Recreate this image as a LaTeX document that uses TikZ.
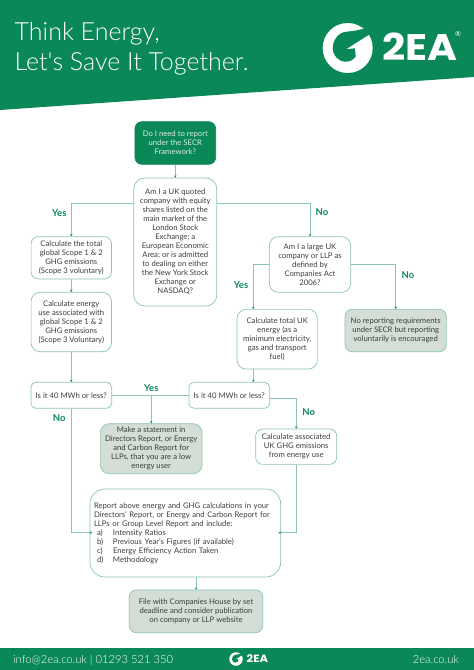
\documentclass[tikz,border=0pt]{standalone}
\usepackage{fontspec}
\setmainfont{Lato}
\newfontfamily\lightfont{Lato Light}
\newfontfamily\logofont[FakeStretch=1.1]{Poppins}
\usetikzlibrary{arrows.meta,calc}
\definecolor{brand}{HTML}{0A8858}
\definecolor{edge}{HTML}{8CC4B4}
\definecolor{pale}{HTML}{D4DDD6}
\definecolor{ink}{HTML}{3A3F3C}
\tikzset{
  flowbox/.style={draw=edge,line width=0.7pt,rounded corners=7pt,fill=white,text=ink,align=center,inner sep=0pt,font=\fontsize{7.7}{9}\selectfont},
  endbox/.style={flowbox,fill=pale},
  conn/.style={draw=edge,line width=0.7pt,-{Stealth[length=2.2pt,width=2.4pt,color=brand]}},
  plain/.style={draw=edge,line width=0.7pt},
  choice/.style={text=brand,font=\fontsize{9.5}{11}\selectfont\bfseries,inner sep=0pt},
}
\newcommand{\logomark}[2]{%
  \begin{scope}[shift={(#1)},scale=#2]
    \fill[white] (0,0) circle (25);
    \fill[brand] (17.3,-19.7) -- (27,-20) -- (22.3,-14) -- (-1.7,1.3) -- (7.3,0.3) -- (8,8.7)
      .. controls (5,12.5) and (1,14) .. (-2.7,13.7)
      .. controls (-10,13) and (-15,7) .. (-15,0.3)
      .. controls (-15,-8) and (-9,-16) .. (-1,-16.3)
      .. controls (6,-17) and (12,-18) .. (17.3,-19.7) -- cycle;
  \end{scope}}
\begin{document}
\begin{tikzpicture}[x=1pt,y=-1pt]
\useasboundingbox (0,0) rectangle (474,670);
\fill[white] (0,0) rectangle (474,670);
\fill[brand] (0,0) -- (474,0) -- (474,77) -- (0,110) -- cycle;
\fill[brand] (0,648.3) rectangle (474,670);
% header
\node[anchor=base west,inner sep=0pt,text=white,font=\fontsize{25}{29.5}\lightfont] (title1) at (14.5,40.7) {Think Energy,};
\node[anchor=base west,inner sep=0pt,text=white,font=\fontsize{25}{29.5}\lightfont] (title2) at (14.5,70) {Let's Save It Together.};
\logomark{347.7,48}{1}
\node[anchor=base west,inner sep=0pt,text=white,font=\fontsize{37}{40}\logofont\bfseries] (brandname) at (382,60) {2EA};
\node[inner sep=0pt,text=white,font=\fontsize{7}{8}\selectfont] (reg) at (458,34) {®};
% boxes
\node[flowbox,fill=brand,draw=brand,text=white!85!brand,minimum width=80.7pt,minimum height=42.6pt] (start) at (175.3,143) {Do I need to report\\under the SECR\\Framework?};
\node[flowbox,rounded corners=11pt,minimum width=83pt,minimum height=128pt] (q1) at (175.3,242) {Am I a UK quoted\\company with equity\\shares listed on the\\main market of the\\London Stock\\Exchange; a\\European Economic\\Area; or is admitted\\to dealing on either\\the New York Stock\\Exchange or\\NASDAQ?};
\node[flowbox,minimum width=80.4pt,minimum height=42.3pt] (calc1) at (71.3,257.8) {Calculate the total\\global Scope 1 \& 2\\GHG emissions\\(Scope 3 voluntary)};
\node[flowbox,rounded corners=9pt,minimum width=80.4pt,minimum height=59.4pt] (calc2) at (71.3,322) {Calculate energy\\use associated with\\global Scope 1 \& 2\\GHG emissions\\(Scope 3 Voluntary)};
\node[flowbox,rounded corners=9pt,minimum width=81.4pt,minimum height=55.6pt] (large) at (310,264.5) {Am I a large UK\\company or LLP as\\defined by\\Companies Act\\2006?};
\node[endbox,minimum width=101.3pt,minimum height=42.4pt] (norep) at (395.7,330.5) {No reporting requirements\\under SECR but reporting\\voluntarily is encouraged};
\node[flowbox,rounded corners=9pt,minimum width=80.3pt,minimum height=59.7pt] (calcuk) at (277.2,339.2) {Calculate total UK\\energy (as a\\minimum electricity,\\gas and transport\\fuel)};
\node[flowbox,rounded corners=5pt,minimum width=80.7pt,minimum height=26pt] (is40l) at (71.3,395.3) {Is it 40 MWh or less?};
\node[flowbox,rounded corners=5pt,minimum width=80.7pt,minimum height=26pt] (is40r) at (229.3,395.3) {Is it 40 MWh or less?};
\node[endbox,rounded corners=9pt,minimum width=101.7pt,minimum height=50pt] (state) at (151.2,448.7) {Make a statement in\\Directors Report, or Energy\\and Carbon Report for\\LLPs, that you are a low\\energy user};
\node[flowbox,minimum width=81pt,minimum height=35.3pt] (assoc) at (296.2,446.7) {Calculate associated\\UK GHG emissions\\from energy use};
\node[flowbox,rounded corners=15pt,align=left,text width=182.7pt,inner xsep=4pt,minimum height=88pt] (report) at (185.35,533) {Report above energy and GHG calculations in your\\Directors' Report, or Energy and Carbon Report for\\LLPs or Group Level Report and include:\\
\hspace*{3pt}\makebox[16pt][l]{a)}Intensity Ratios\\
\hspace*{3pt}\makebox[16pt][l]{b)}Previous Year's Figures (if available)\\
\hspace*{3pt}\makebox[16pt][l]{c)}Energy Efficiency Action Taken\\
\hspace*{3pt}\makebox[16pt][l]{d)}Methodology};
\node[endbox,minimum width=133.4pt,minimum height=42.7pt] (filebox) at (196,611.3) {File with Companies House by set\\deadline and consider publication\\on company or LLP website};
% routing helpers
\coordinate (qy) at (0,203.3);
\coordinate (ux) at (253.3,0);
\coordinate (ry) at (0,398.7);
\coordinate (ly) at (0,532.7);
% connectors
\draw[conn] (start) -- (q1);
\draw[conn] (q1.west |- qy) -| (calc1.north);
\draw[conn] (calc1) -- (calc2);
\draw[conn] (calc2) -- (is40l);
\draw[conn] (q1.east |- qy) -| (large.north);
\draw[conn] (large.west) -| (ux |- calcuk.north);
\draw[conn] (large.east) -| (norep.north);
\draw[conn] (ux |- calcuk.south) -- (ux |- is40r.north);
\draw[plain] (is40l) -- (is40r);
\draw[conn] (state.north |- is40l.east) -- (state.north);
\draw[conn] (is40r.east |- ry) -| (assoc.north);
\draw[conn,shorten >=-2.5pt] (assoc.south) |- (report.east |- ly);
\draw[conn,shorten >=-2.5pt] (is40l.south) |- (report.west |- ly);
\draw[conn] (report.south -| filebox.north) -- (filebox.north);
% labels
\node[choice] (yes1) at (59.3,213.5) {Yes};
\node[choice] (no1) at (322,212) {No};
\node[choice] (yes2) at (241,285.5) {Yes};
\node[choice] (no2) at (408,275) {No};
\node[choice] (yes3) at (151.3,388.5) {Yes};
\node[choice] (no3) at (59.3,418) {No};
\node[choice] (no4) at (308.7,412) {No};
% footer
\node[anchor=base west,inner sep=0pt,text=white,font=\fontsize{11.2}{13}\lightfont] (contact) at (13,663) {info@2ea.co.uk | 01293 521 350};
\node[anchor=base east,inner sep=0pt,text=white,font=\fontsize{11.2}{13}\lightfont] (site) at (459,663) {2ea.co.uk};
\logomark{236,659}{0.27}
\node[anchor=base west,inner sep=0pt,text=white,font=\fontsize{10.5}{12}\logofont\bfseries] (footbrand) at (246.5,662.7) {2EA};
\end{tikzpicture}
\end{document}
